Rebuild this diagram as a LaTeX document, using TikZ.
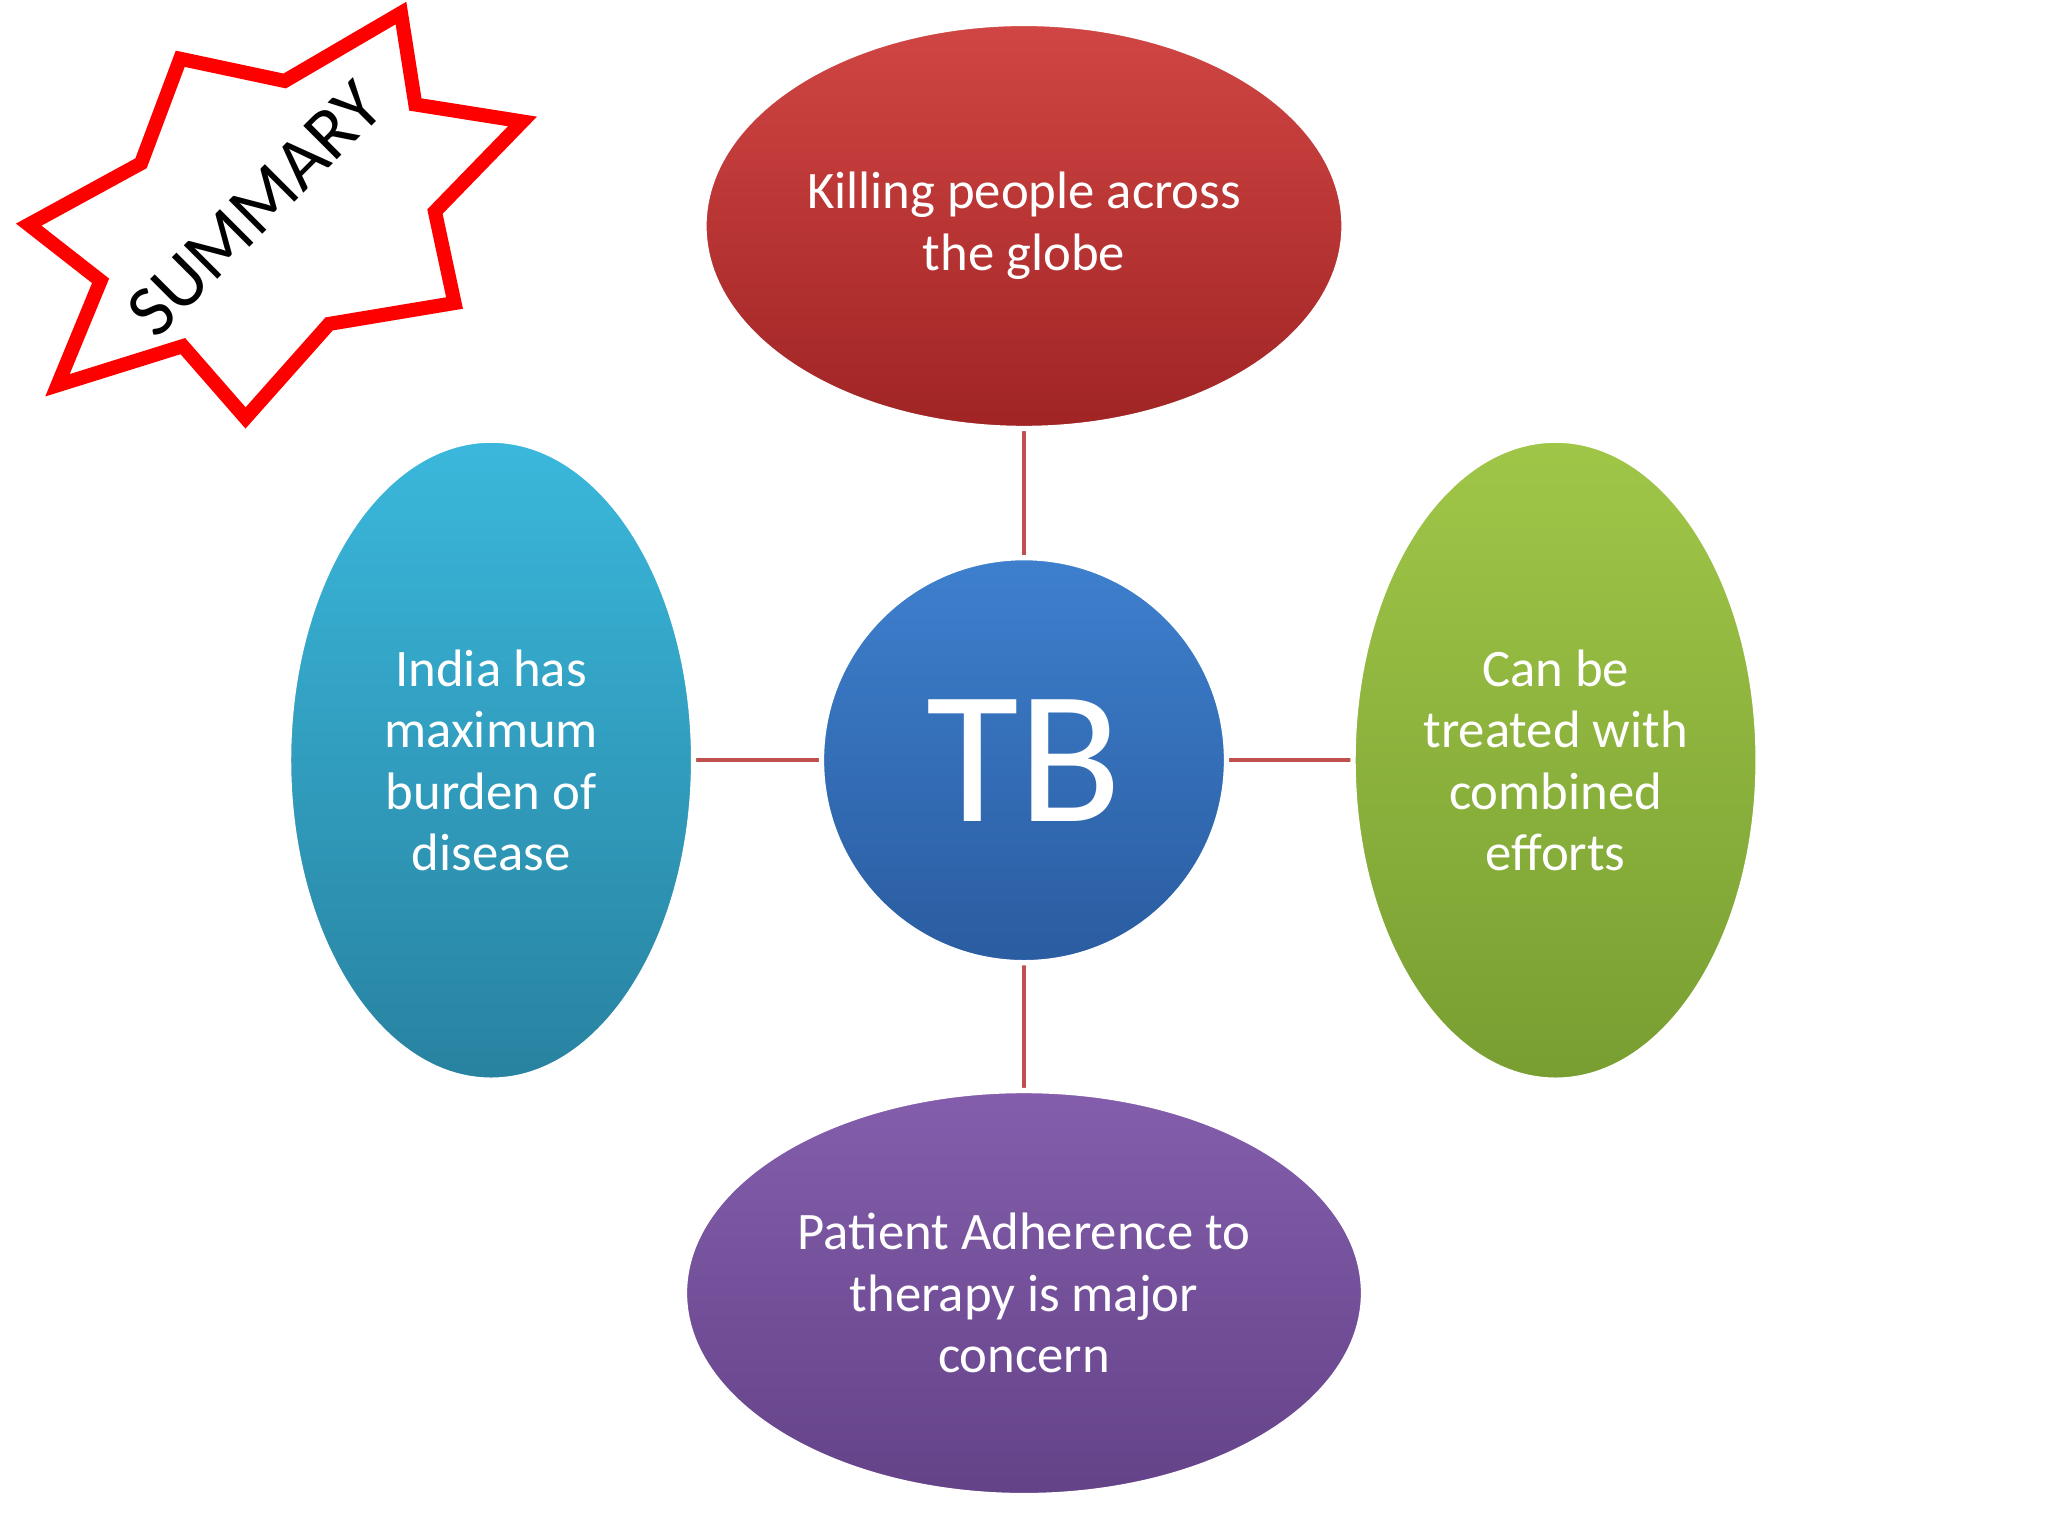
\documentclass[tikz,border=0pt]{standalone}
\usepackage{fontspec}
\setmainfont{Carlito}
\usetikzlibrary{shapes.geometric}
\begin{document}
\begin{tikzpicture}[x=0.01306cm,y=-0.01306cm,
  bub/.style={ellipse,draw=white,line width=1.5pt,inner sep=0pt,align=center,text=white,font=\fontsize{15}{17.5}\selectfont},
  link/.style={draw={rgb,255:red,192;green,80;blue,77},line width=1.3pt}]
\useasboundingbox (0,0) rectangle (1568,1176);
\draw[link] (784,173) -- (784,990);
\draw[link] (376,582) -- (1191,582);
\node[bub,minimum width=6.4cm,minimum height=4.05cm,top color={rgb,255:red,208;green,70;blue,68},bottom color={rgb,255:red,160;green,36;blue,36}] (top) at (784,173) {Killing people across\\the globe};
\node[bub,minimum width=4.05cm,minimum height=6.4cm,top color={rgb,255:red,58;green,184;blue,220},bottom color={rgb,255:red,40;green,130;blue,160}] (left) at (376,582) {India has\\maximum\\burden of\\disease};
\node[bub,minimum width=4.05cm,minimum height=6.4cm,top color={rgb,255:red,160;green,198;blue,72},bottom color={rgb,255:red,120;green,158;blue,50}] (right) at (1191,582) {Can be\\treated with\\combined\\efforts};
\node[bub,minimum width=6.79cm,minimum height=4.05cm,top color={rgb,255:red,132;green,94;blue,172},bottom color={rgb,255:red,100;green,66;blue,136}] (bot) at (784,990) {Patient Adherence to\\therapy is major\\concern};
\node[circle,draw=white,line width=1.5pt,inner sep=0pt,minimum size=4.05cm,top color={rgb,255:red,62;green,128;blue,206},bottom color={rgb,255:red,42;green,92;blue,160},text=white,font=\fontsize{54}{60}\selectfont] (tb) at (784,582) {TB};
\draw[red,line width=4pt,line join=miter] (138,45) -- (218,62) -- (307,10) -- (318,80) -- (400,93) -- (333,162) -- (348,232) -- (252,248) -- (188,320) -- (140,265) -- (44,295) -- (77,215) -- (22,172) -- (108,125) -- cycle;
\node[rotate=45,font=\fontsize{21}{24}\selectfont] (sum) at (195,160) {SUMMARY};
\end{tikzpicture}
\end{document}
